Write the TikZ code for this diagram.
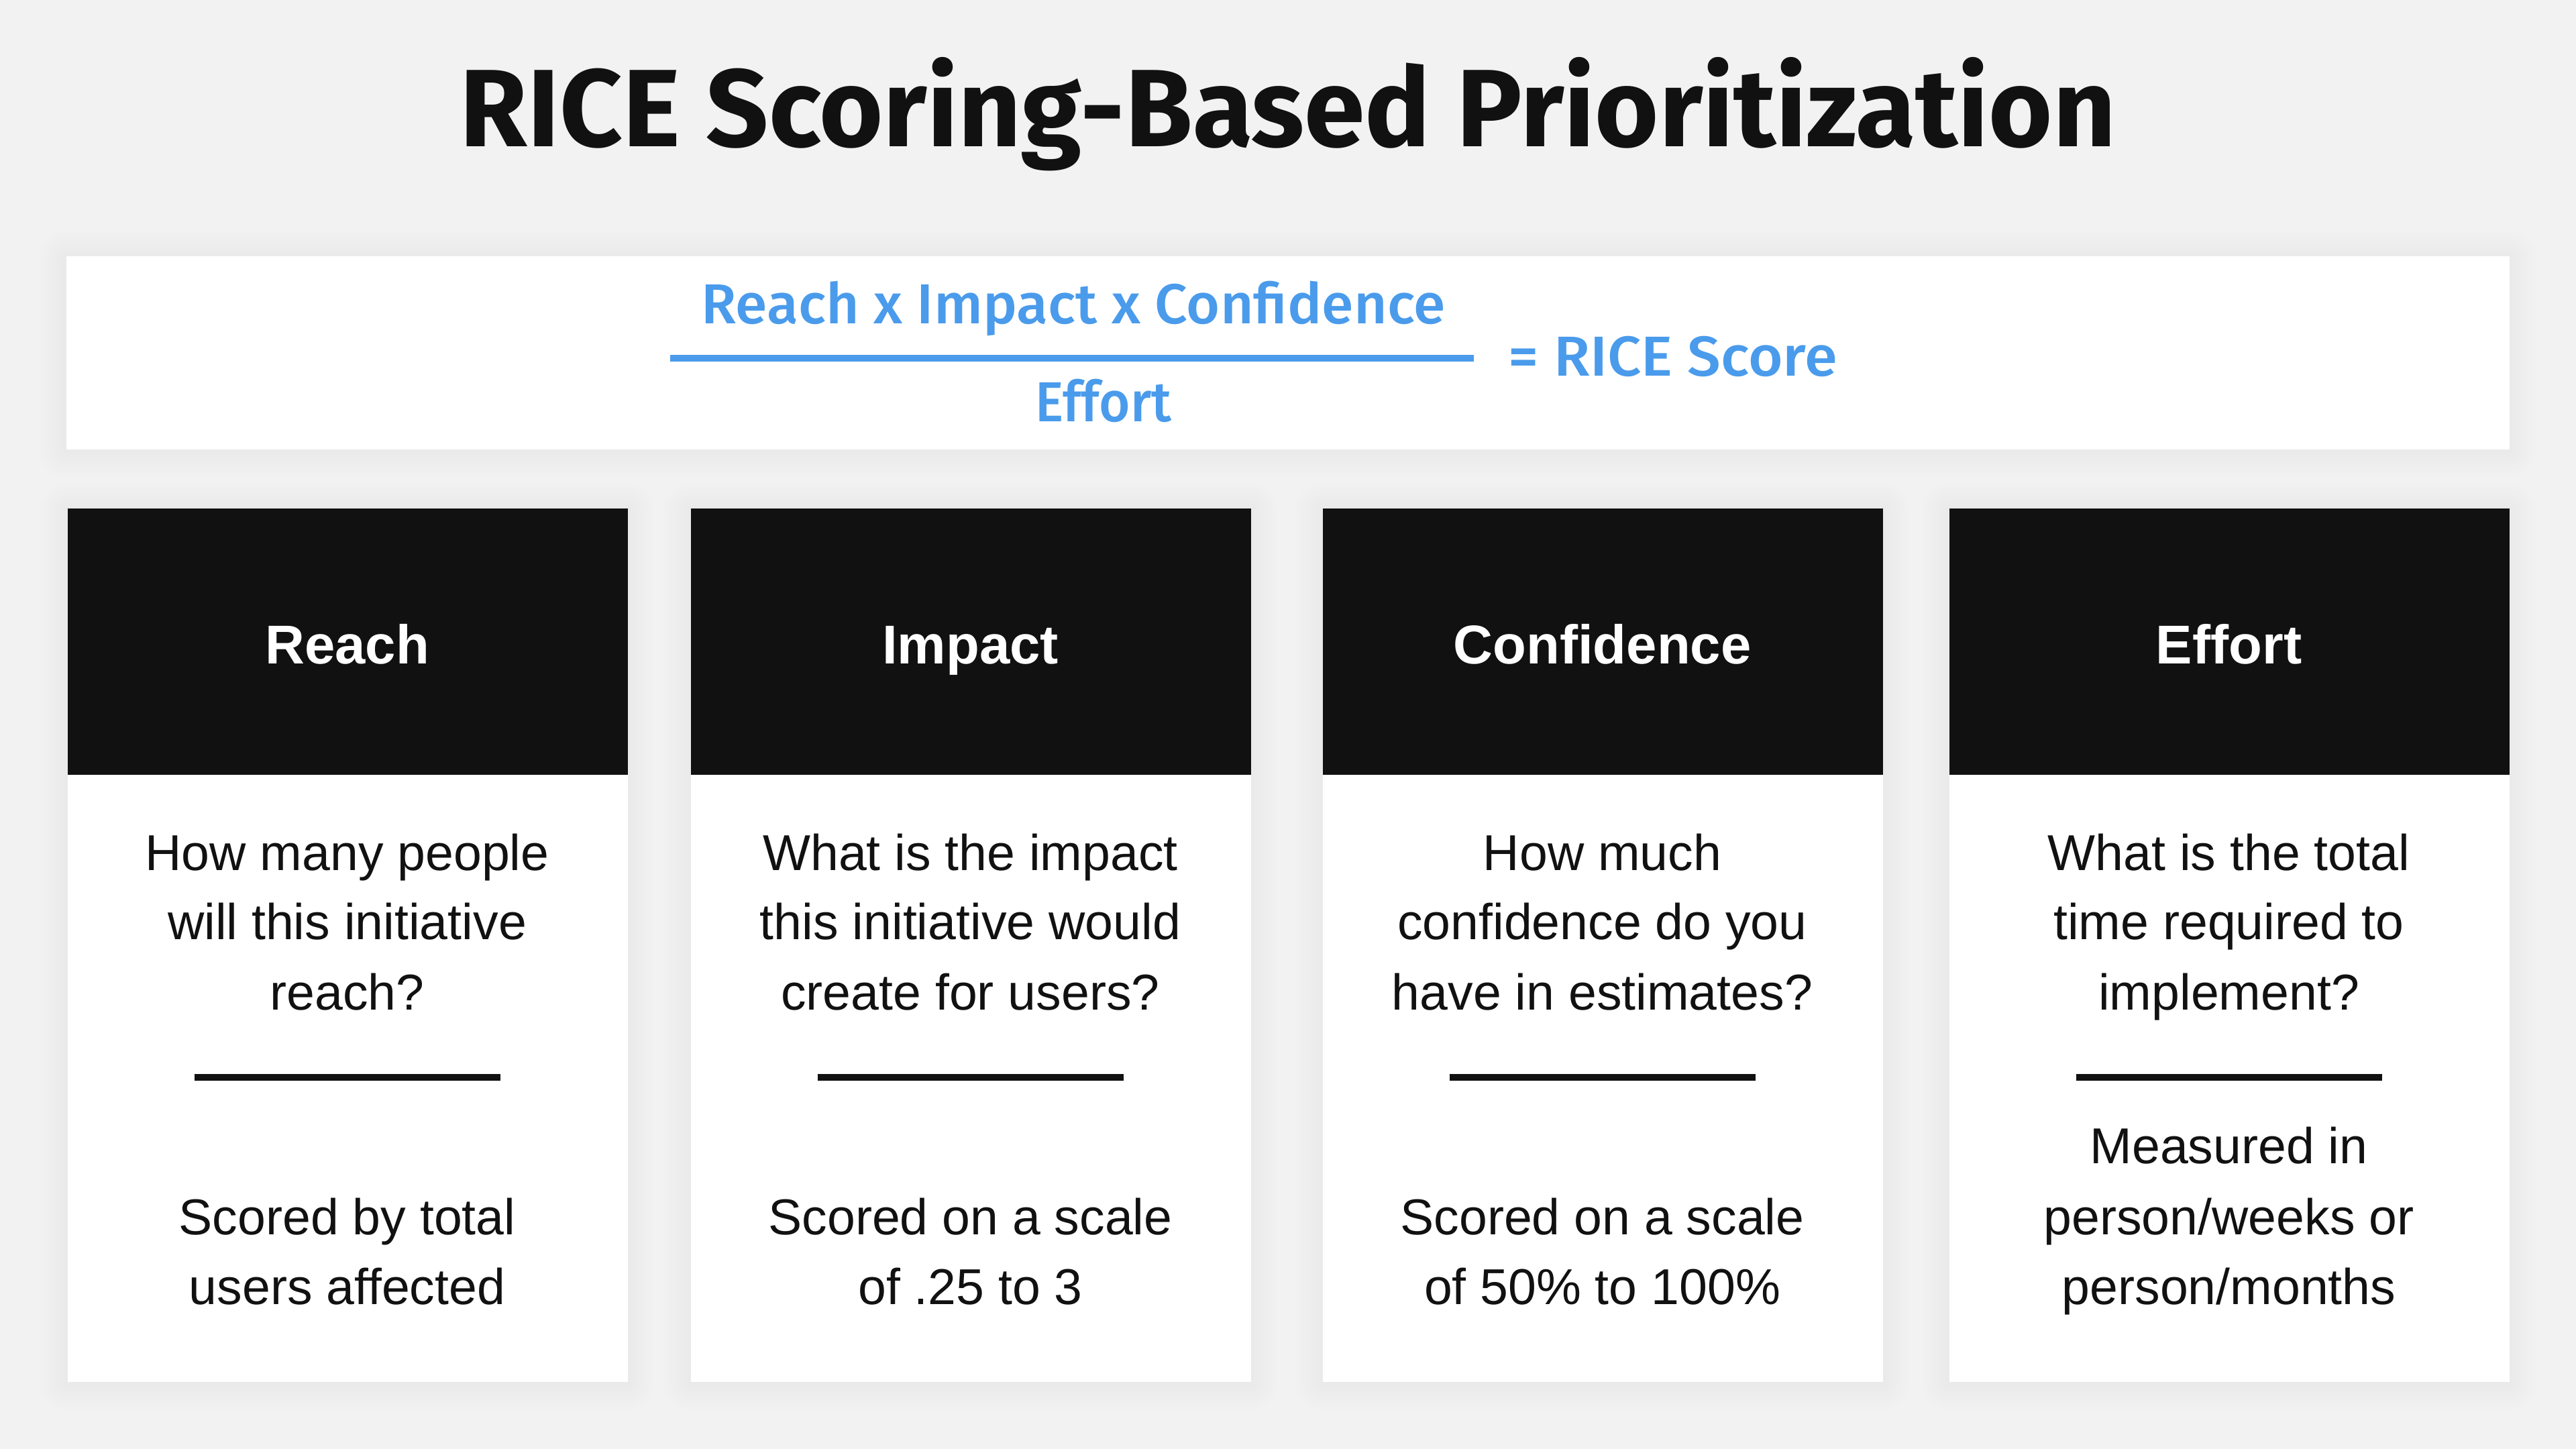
\documentclass[tikz,border=0pt]{standalone}
\usepackage{fontspec}
\usepackage{graphicx}
\setmainfont{Liberation Sans}
\newfontfamily\titlefont{Fira Sans}
\newfontfamily\bluefont{Fira Sans Medium}
\definecolor{bgc}{HTML}{F2F2F2}
\definecolor{ink}{HTML}{111111}
\definecolor{riceblue}{HTML}{4A9BEB}
\newcommand\softshadow[4]{%
  \foreach \d in {0.05,0.10,...,0.45}{%
    \fill[black,opacity=0.0055,rounded corners=\d cm] (#1-\d,#2+\d-0.03) rectangle (#3+\d,#4-\d-0.03);
  }%
}
\newcommand\RiceCard[9]{%
  \pgfmathsetmacro\cx{#1+4.175}
  \pgfmathsetmacro\cr{#1+8.35}
  \softshadow{#1}{-7.57}{\cr}{-20.59}
  \node[cardbox, anchor=north west] (#2card) at (#1,-7.57) {};
  \node[headbox, anchor=north west] (#2head) at (#1,-7.57) {};
  \node[headtext] (#2name) at (\cx,-9.89) {#3};
  \node[bodytext] (#2qa) at (\cx,-12.97) {#4};
  \node[bodytext] (#2qb) at (\cx,-14.00) {#5};
  \node[bodytext] (#2qc) at (\cx,-15.05) {#6};
  \coordinate (#2dl) at (\cx-2.28,-16.06);
  \coordinate (#2dr) at (\cx+2.28,-16.06);
  \draw[divider] (#2dl) -- (#2dr);
  \node[bodytext] (#2sa) at (\cx,-17.34) {#7};
  \node[bodytext] (#2sb) at (\cx,-18.40) {#8};
  \node[bodytext] (#2sc) at (\cx,-19.44) {#9};
}
\begin{document}
\begin{tikzpicture}[x=1cm,y=1cm,
  cardbox/.style={fill=white, draw=none, inner sep=0, minimum width=8.35cm, minimum height=13.02cm},
  headbox/.style={fill=ink, draw=none, inner sep=0, minimum width=8.35cm, minimum height=3.97cm},
  headtext/.style={anchor=base, inner sep=0, text=white, font=\bfseries\fontsize{23.2}{28}\selectfont},
  bodytext/.style={anchor=base, inner sep=0, text=ink, font=\fontsize{21.4}{26}\selectfont},
  divider/.style={draw=ink, line width=0.1cm},
  bluetext/.style={inner sep=0, text=riceblue, font=\bluefont\fontsize{23.9}{28}\selectfont},
]
\useasboundingbox (0,0) rectangle (38.4,-21.6);
\fill[bgc] (0,0) rectangle (38.4,-21.6);

\node[anchor=base, inner sep=0, text=ink, font=\titlefont\bfseries\fontsize{46.7}{52}\selectfont] (title) at (19.2,-2.19)
  {\resizebox{24.68cm}{\height}{RICE Scoring-Based Prioritization}};

\softshadow{0.98}{-3.81}{37.40}{-6.69}
\node[fill=white, draw=none, inner sep=0, minimum width=36.42cm, minimum height=2.88cm, anchor=north west] (formula) at (0.98,-3.81) {};
\node[bluetext, anchor=base] (num) at (16.0,-4.83) {\resizebox{11.09cm}{\height}{Reach x Impact x Confidence}};
\coordinate (fracl) at (9.99,-5.34);
\coordinate (fracr) at (21.97,-5.34);
\draw[draw=riceblue, line width=0.1cm] (fracl) -- (fracr);
\node[bluetext, anchor=base west] (score) at (22.48,-5.61) {\resizebox{4.90cm}{\height}{= RICE Score}};
\node[bluetext, anchor=base] (den) at (16.45,-6.28) {\resizebox{2.03cm}{\height}{Effort}};

\RiceCard{1.00}{r}{Reach}{How many people}{will this initiative}{reach?}{}{Scored by total}{users affected}
\RiceCard{10.29}{i}{Impact}{What is the impact}{this initiative would}{create for users?}{}{Scored on a scale}{of .25 to 3}
\RiceCard{19.71}{c}{Confidence}{How much}{confidence do you}{have in estimates?}{}{Scored on a scale}{of 50\% to 100\%}
\RiceCard{29.05}{e}{Effort}{What is the total}{time required to}{implement?}{Measured in}{person/weeks or}{person/months}
\end{tikzpicture}
\end{document}
